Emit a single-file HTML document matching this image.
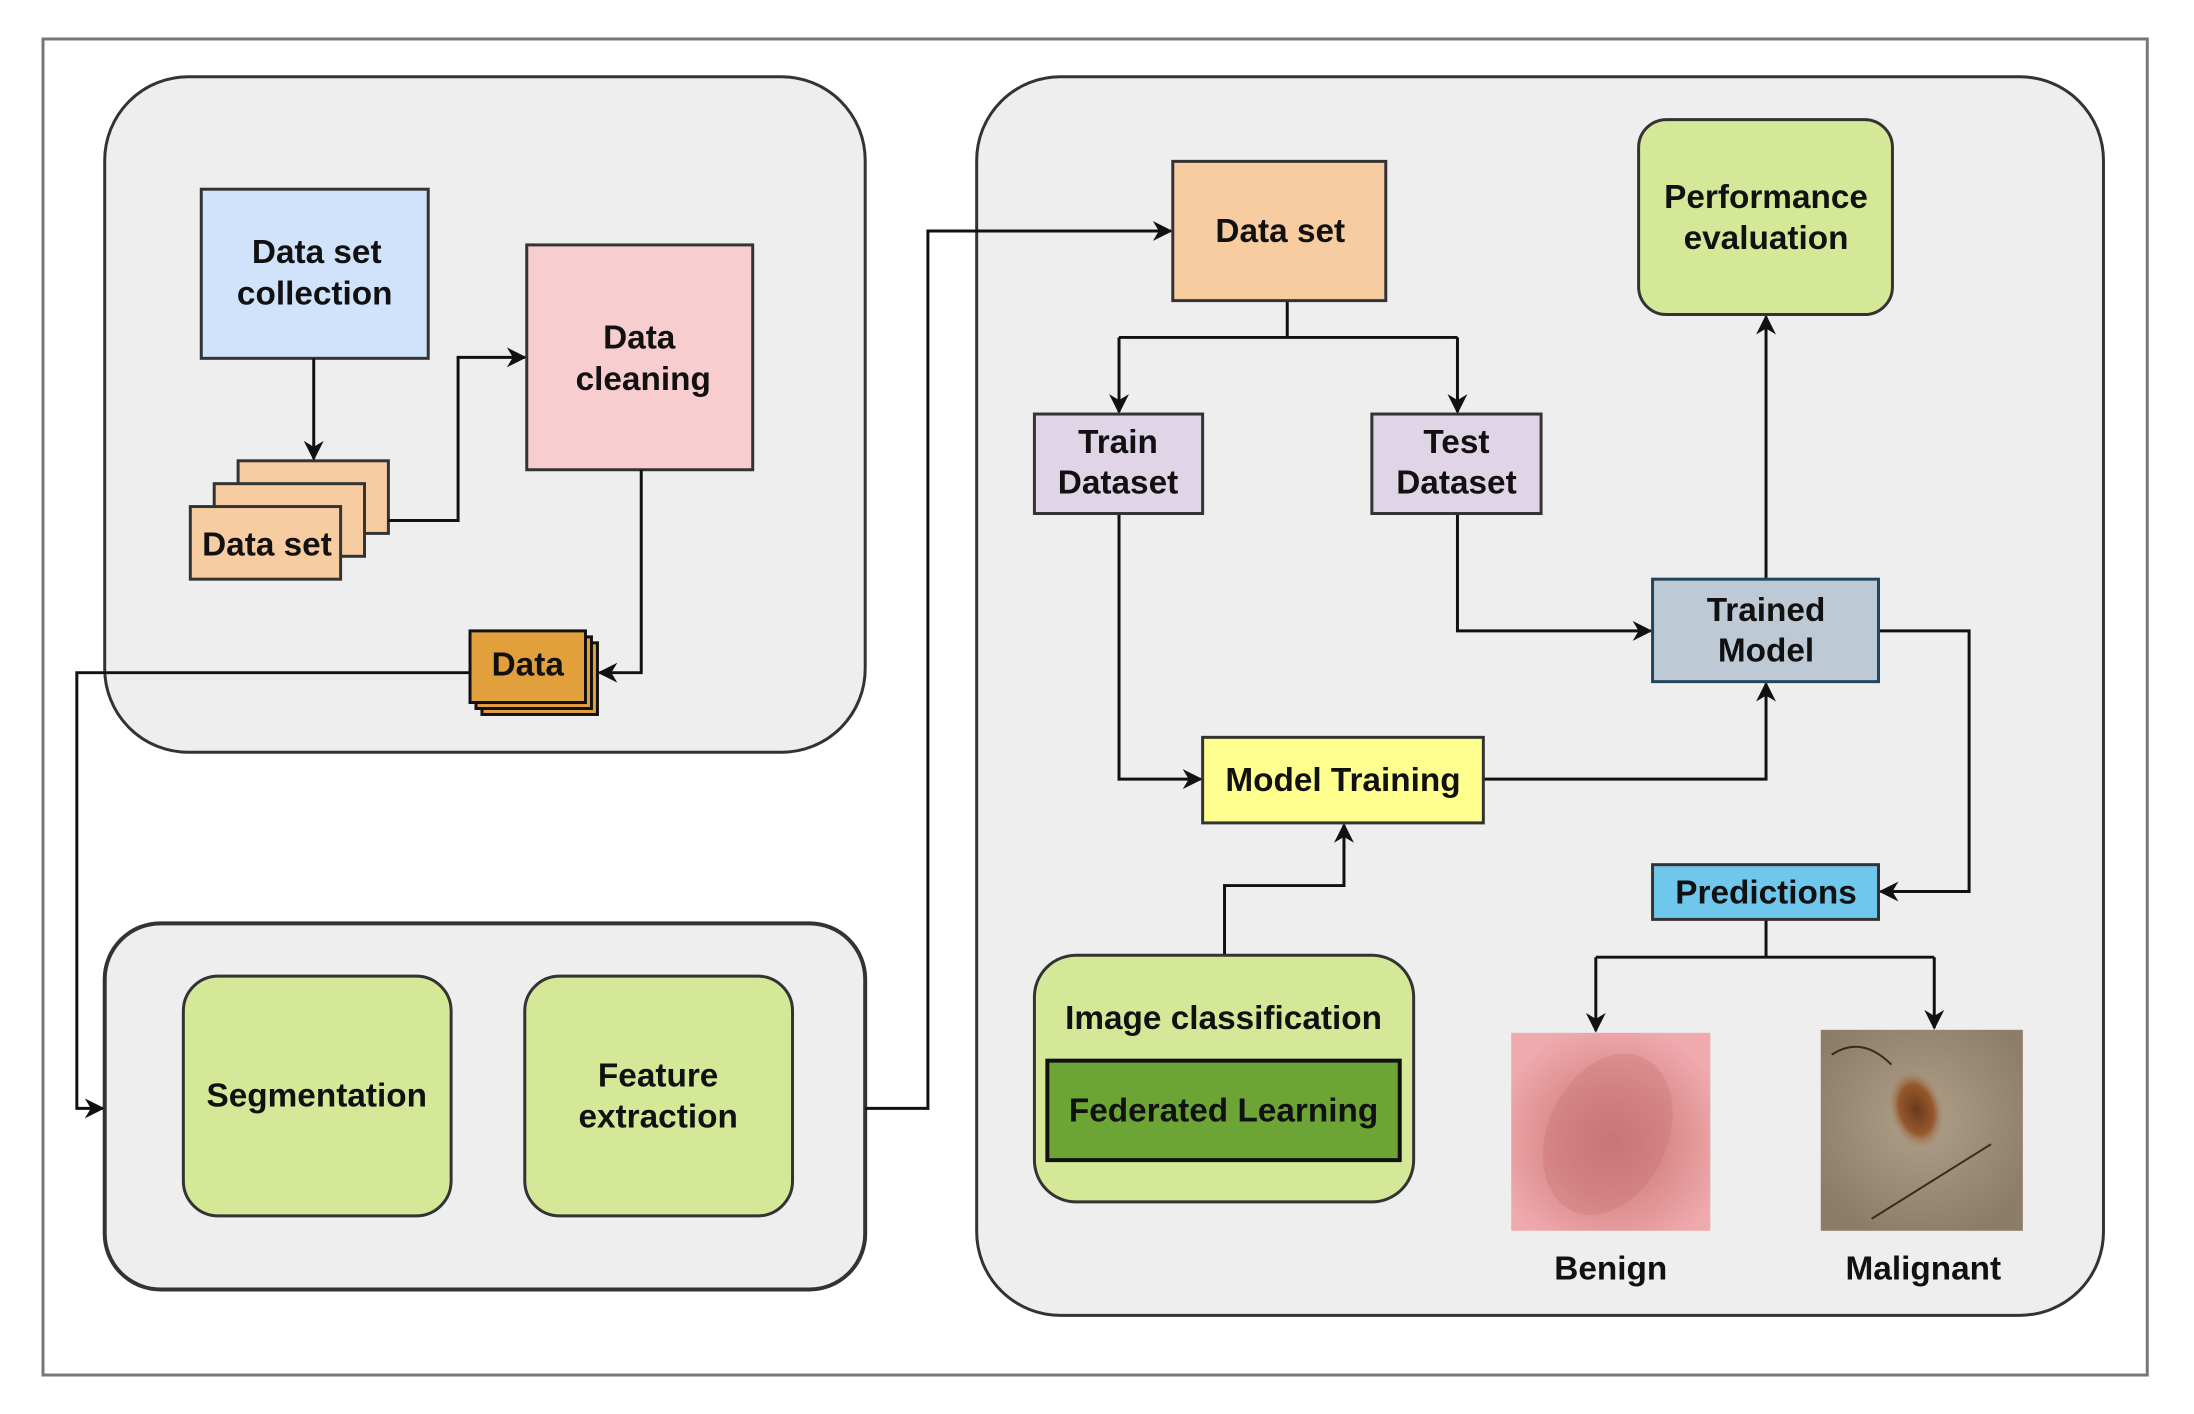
<!DOCTYPE html>
<html><head><meta charset="utf-8"><style>
html,body{margin:0;padding:0;background:#fff}
svg{display:block}
text{font-family:"Liberation Sans",Arial,sans-serif;font-weight:bold;font-size:33.5px;fill:#111;text-anchor:middle}
</style></head><body>
<svg width="2194" height="1414" viewBox="0 0 2194 1414" xmlns="http://www.w3.org/2000/svg">
<defs>
<marker id="b" viewBox="0 0 10 10" refX="9" refY="5" markerWidth="20" markerHeight="20" markerUnits="userSpaceOnUse" orient="auto"><path d="M0,0 L10,5 L0,10 L3,5 z" fill="#111"/></marker>
<radialGradient id="ben" cx="0.5" cy="0.55" r="0.6"><stop offset="0" stop-color="#c97a78"/><stop offset="0.45" stop-color="#d98a88"/><stop offset="1" stop-color="#efaaae"/></radialGradient>
<radialGradient id="mal" cx="0.5" cy="0.45" r="0.6"><stop offset="0" stop-color="#b0a08a"/><stop offset="1" stop-color="#8d7c68"/></radialGradient>
<radialGradient id="spot" cx="0.5" cy="0.5" r="0.5"><stop offset="0" stop-color="#6b3a1c"/><stop offset="0.6" stop-color="#96582c"/><stop offset="1" stop-color="#a8977f" stop-opacity="0"/></radialGradient>
</defs>
<g transform="translate(42,38) scale(0.9954,0.9948) translate(-42,-38)">
<rect x="43" y="39" width="2114" height="1343" fill="#fff" stroke="#777" stroke-width="3"/>
<rect x="105" y="77" width="764" height="679" rx="84" fill="#eeeeee" stroke="#333" stroke-width="3"/>
<rect x="105" y="928" width="764" height="368" rx="56" fill="#eeeeee" stroke="#333" stroke-width="4"/>
<rect x="981" y="77" width="1132" height="1245" rx="84" fill="#eeeeee" stroke="#333" stroke-width="3"/>

<rect x="202" y="190" width="228" height="170" fill="#d0e3fb" stroke="#333" stroke-width="3"/>
<text x="318" y="264">Data set</text><text x="316" y="306">collection</text>
<rect x="529" y="246" width="227" height="226" fill="#f7cdcf" stroke="#333" stroke-width="3"/>
<text x="642" y="350">Data</text><text x="646" y="392">cleaning</text>
<rect x="239" y="463" width="151" height="73" fill="#f6cca0" stroke="#333" stroke-width="3"/>
<rect x="215" y="486" width="151" height="73" fill="#f6cca0" stroke="#333" stroke-width="3"/>
<rect x="191" y="509" width="151" height="73" fill="#f6cca0" stroke="#333" stroke-width="3"/>
<text x="268" y="558">Data set</text>
<rect x="484" y="646" width="116" height="72" fill="#e2a03c" stroke="#111" stroke-width="3"/>
<rect x="478" y="640" width="116" height="72" fill="#e2a03c" stroke="#111" stroke-width="3"/>
<rect x="472" y="634" width="116" height="72" fill="#e2a03c" stroke="#111" stroke-width="3"/>
<text x="530" y="679">Data</text>

<g fill="none" stroke="#111" stroke-width="3">
<path d="M315,360 V461" marker-end="url(#b)"/>
<path d="M390,523 H460 V359 H527" marker-end="url(#b)"/>
<path d="M644,472 V676 H602" marker-end="url(#b)"/>
<path d="M472,676 H77 V1114 H103" marker-end="url(#b)"/>
<path d="M869,1114 H932 V232 H1176" marker-end="url(#b)"/>
<path d="M1293,302 V339 M1124,339 H1464" />
<path d="M1124,339 V414" marker-end="url(#b)"/>
<path d="M1464,339 V414" marker-end="url(#b)"/>
<path d="M1124,516 V783 H1206" marker-end="url(#b)"/>
<path d="M1464,516 V634 H1658" marker-end="url(#b)"/>
<path d="M1490,783 H1774 V687" marker-end="url(#b)"/>
<path d="M1774,582 V318" marker-end="url(#b)"/>
<path d="M1887,634 H1978 V896 H1889" marker-end="url(#b)"/>
<path d="M1774,924 V962 M1603,962 H1943"/>
<path d="M1603,962 V1036" marker-end="url(#b)"/>
<path d="M1943,962 V1033" marker-end="url(#b)"/>
<path d="M1230,960 V890 H1350 V829" marker-end="url(#b)"/>
</g>

<rect x="184" y="981" width="269" height="241" rx="35" fill="#d5e898" stroke="#333" stroke-width="3"/>
<text x="318" y="1112">Segmentation</text>
<rect x="527" y="981" width="269" height="241" rx="35" fill="#d5e898" stroke="#333" stroke-width="3"/>
<text x="661" y="1092">Feature</text><text x="661" y="1133">extraction</text>

<rect x="1178" y="162" width="214" height="140" fill="#f6cca0" stroke="#333" stroke-width="3"/>
<text x="1286" y="243">Data set</text>
<rect x="1039" y="416" width="169" height="100" fill="#e0d5e7" stroke="#333" stroke-width="3"/>
<text x="1123" y="455">Train</text><text x="1123" y="496">Dataset</text>
<rect x="1378" y="416" width="170" height="100" fill="#e0d5e7" stroke="#333" stroke-width="3"/>
<text x="1463" y="455">Test</text><text x="1463" y="496">Dataset</text>
<rect x="1646" y="120" width="255" height="196" rx="28" fill="#d5e898" stroke="#333" stroke-width="3"/>
<text x="1774" y="209">Performance</text><text x="1774" y="250">evaluation</text>
<rect x="1660" y="582" width="227" height="103" fill="#bdc9d4" stroke="#23445d" stroke-width="3"/>
<text x="1774" y="624">Trained</text><text x="1774" y="665">Model</text>
<rect x="1208" y="741" width="282" height="86" fill="#ffff90" stroke="#333" stroke-width="3"/>
<text x="1349" y="795">Model Training</text>
<rect x="1660" y="869" width="227" height="55" fill="#6fc8ec" stroke="#333" stroke-width="3"/>
<text x="1774" y="908">Predictions</text>
<rect x="1039" y="960" width="381" height="248" rx="42" fill="#d5e898" stroke="#333" stroke-width="3"/>
<text x="1229" y="1034">Image classification</text>
<rect x="1052" y="1066" width="354" height="100" fill="#6da436" stroke="#111" stroke-width="4"/>
<text x="1229" y="1127">Federated Learning</text>

<rect x="1518" y="1038" width="200" height="199" fill="url(#ben)"/>
<ellipse cx="1615" cy="1140" rx="60" ry="85" fill="#c46c70" opacity="0.3" transform="rotate(25 1615 1140)"/>
<rect x="1829" y="1035" width="203" height="202" fill="url(#mal)"/>
<ellipse cx="1925" cy="1115" rx="28" ry="42" fill="url(#spot)" transform="rotate(-15 1925 1115)"/>
<path d="M1880,1225 L2000,1150 M1840,1060 Q1870,1040 1900,1070" stroke="#3a2a20" stroke-width="2" fill="none"/>
<text x="1618" y="1286">Benign</text>
<text x="1932" y="1286">Malignant</text>
</g>
</svg>
</body></html>
